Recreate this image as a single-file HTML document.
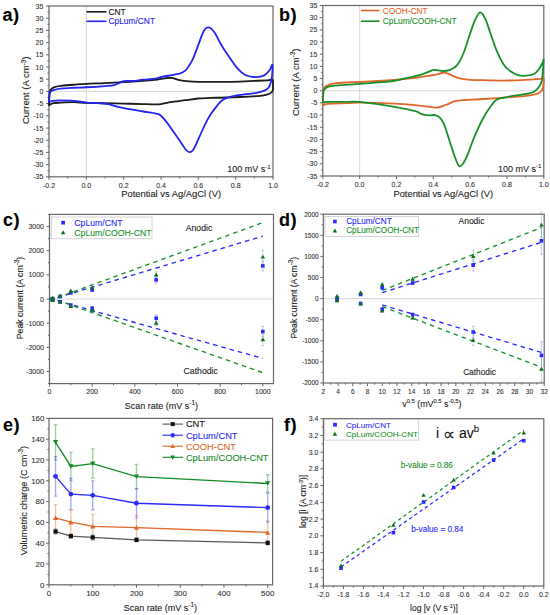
<!DOCTYPE html>
<html><head><meta charset="utf-8"><style>html,body{margin:0;padding:0;background:#fff;}svg{display:block;}</style></head>
<body><svg width="550" height="615" viewBox="0 0 550 615" font-family='"Liberation Sans", sans-serif'>
<rect width="550" height="615" fill="#fff"/>
<path d="M86.33 6V176.8M49 91.4H273" stroke="#d4d4d4" stroke-width="0.9"/>
<rect x="49" y="6" width="224" height="170.8" fill="none" stroke="#666" stroke-width="1.2"/>
<path d="M46 176.8H49M46 164.6H49M46 152.4H49M46 140.2H49M46 128H49M46 115.8H49M46 103.6H49M46 91.4H49M46 79.2H49M46 67H49M46 54.8H49M46 42.6H49M46 30.4H49M46 18.2H49M46 6H49M47.4 170.7H49M47.4 158.5H49M47.4 146.3H49M47.4 134.1H49M47.4 121.9H49M47.4 109.7H49M47.4 97.5H49M47.4 85.3H49M47.4 73.1H49M47.4 60.9H49M47.4 48.7H49M47.4 36.5H49M47.4 24.3H49M47.4 12.1H49M49 176.8V179.8M86.33 176.8V179.8M123.67 176.8V179.8M161 176.8V179.8M198.33 176.8V179.8M235.67 176.8V179.8M273 176.8V179.8M67.67 176.8V178.4M105 176.8V178.4M142.33 176.8V178.4M179.67 176.8V178.4M217 176.8V178.4M254.33 176.8V178.4" stroke="#666" stroke-width="1" fill="none"/>
<text x="43.3" y="179.32" font-size="7" text-anchor="end" fill="#333" stroke="#333" stroke-width="0.1">-35</text>
<text x="43.3" y="167.12" font-size="7" text-anchor="end" fill="#333" stroke="#333" stroke-width="0.1">-30</text>
<text x="43.3" y="154.92" font-size="7" text-anchor="end" fill="#333" stroke="#333" stroke-width="0.1">-25</text>
<text x="43.3" y="142.72" font-size="7" text-anchor="end" fill="#333" stroke="#333" stroke-width="0.1">-20</text>
<text x="43.3" y="130.52" font-size="7" text-anchor="end" fill="#333" stroke="#333" stroke-width="0.1">-15</text>
<text x="43.3" y="118.32" font-size="7" text-anchor="end" fill="#333" stroke="#333" stroke-width="0.1">-10</text>
<text x="43.3" y="106.12" font-size="7" text-anchor="end" fill="#333" stroke="#333" stroke-width="0.1">-5</text>
<text x="43.3" y="93.92" font-size="7" text-anchor="end" fill="#333" stroke="#333" stroke-width="0.1">0</text>
<text x="43.3" y="81.72" font-size="7" text-anchor="end" fill="#333" stroke="#333" stroke-width="0.1">5</text>
<text x="43.3" y="69.52" font-size="7" text-anchor="end" fill="#333" stroke="#333" stroke-width="0.1">10</text>
<text x="43.3" y="57.32" font-size="7" text-anchor="end" fill="#333" stroke="#333" stroke-width="0.1">15</text>
<text x="43.3" y="45.12" font-size="7" text-anchor="end" fill="#333" stroke="#333" stroke-width="0.1">20</text>
<text x="43.3" y="32.92" font-size="7" text-anchor="end" fill="#333" stroke="#333" stroke-width="0.1">25</text>
<text x="43.3" y="20.72" font-size="7" text-anchor="end" fill="#333" stroke="#333" stroke-width="0.1">30</text>
<text x="43.3" y="8.52" font-size="7" text-anchor="end" fill="#333" stroke="#333" stroke-width="0.1">35</text>
<text x="49" y="187.82" font-size="7" text-anchor="middle" fill="#333" stroke="#333" stroke-width="0.1">-0.2</text>
<text x="86.33" y="187.82" font-size="7" text-anchor="middle" fill="#333" stroke="#333" stroke-width="0.1">0.0</text>
<text x="123.67" y="187.82" font-size="7" text-anchor="middle" fill="#333" stroke="#333" stroke-width="0.1">0.2</text>
<text x="161" y="187.82" font-size="7" text-anchor="middle" fill="#333" stroke="#333" stroke-width="0.1">0.4</text>
<text x="198.33" y="187.82" font-size="7" text-anchor="middle" fill="#333" stroke="#333" stroke-width="0.1">0.6</text>
<text x="235.67" y="187.82" font-size="7" text-anchor="middle" fill="#333" stroke="#333" stroke-width="0.1">0.8</text>
<text x="273" y="187.82" font-size="7" text-anchor="middle" fill="#333" stroke="#333" stroke-width="0.1">1.0</text>
<path d="M49 105.67C49.03 104.52 49.09 100.9 49.19 98.72C49.28 96.54 49.37 94.04 49.56 92.62C49.75 91.2 49.96 90.79 50.31 90.18C50.65 89.57 51.02 89.43 51.61 88.96C52.2 88.49 52.39 87.88 53.85 87.35C55.32 86.82 57.06 86.22 60.39 85.79C63.72 85.35 69.5 85.06 73.83 84.74C78.15 84.41 81.14 84.11 86.33 83.84C91.53 83.56 98.78 83.39 105 83.1C111.22 82.82 117.44 82.49 123.67 82.13C129.89 81.76 136.73 81.31 142.33 80.91C147.93 80.5 152.6 80.22 157.27 79.69C161.93 79.16 166.6 77.65 170.33 77.74C174.07 77.82 176.56 79.57 179.67 80.18C182.78 80.79 185.89 81.11 189 81.4C192.11 81.68 193.67 81.8 198.33 81.88C203 81.97 210.06 81.92 217 81.88C223.94 81.84 233.74 81.8 239.96 81.64C246.18 81.48 249.76 81.13 254.33 80.91C258.91 80.68 264.35 80.46 267.4 80.3C270.45 80.14 271.69 78.9 272.63 79.93C273.56 80.97 272.97 84.81 273 86.52C273.03 88.23 273.16 89.12 272.81 90.18C272.47 91.24 271.94 92.13 270.95 92.86C269.95 93.6 268.61 94.08 266.84 94.57C265.07 95.06 264.79 95.39 260.31 95.79C255.83 96.2 247.18 96.69 239.96 97.01C232.74 97.34 223.94 97.5 217 97.74C210.06 97.99 203.59 98.07 198.33 98.48C193.08 98.88 190.12 99.57 185.45 100.18C180.79 100.79 174.41 101.49 170.33 102.14C166.26 102.79 164.11 103.72 161 104.09C157.89 104.45 154.78 104.33 151.67 104.33C148.56 104.33 147 104.21 142.33 104.09C137.67 103.97 129.89 103.76 123.67 103.6C117.44 103.44 111.22 103.23 105 103.11C98.78 102.99 91.53 103.03 86.33 102.87C81.14 102.71 78.15 102.18 73.83 102.14C69.5 102.1 63.93 102.42 60.39 102.62C56.84 102.83 54.44 102.85 52.55 103.36C50.65 103.86 49.59 105.29 49 105.67" stroke="#1c1c1c" stroke-width="1.8" fill="none" stroke-linejoin="round"/>
<path d="M49 102.62C49.06 101.57 49.22 97.89 49.37 96.28C49.53 94.67 49.68 93.77 49.93 92.96C50.18 92.15 50.43 91.84 50.87 91.4C51.3 90.96 50.96 90.81 52.55 90.35C54.13 89.89 56.84 89.08 60.39 88.64C63.93 88.21 69.5 87.97 73.83 87.74C78.15 87.51 81.14 87.54 86.33 87.25C91.53 86.97 100.33 86.4 105 86.03C109.67 85.67 112 85.54 114.33 85.06C116.67 84.57 117.44 83.75 119 83.1C120.56 82.45 121.33 81.52 123.67 81.15C126 80.79 129.73 81.15 133 80.91C136.27 80.66 139.53 80.05 143.27 79.69C147 79.32 152.13 79.24 155.4 78.71C158.67 78.18 160.38 77.09 162.87 76.52C165.36 75.95 167.53 75.78 170.33 75.3C173.13 74.81 177.18 74.36 179.67 73.59C182.16 72.82 183.71 71.96 185.27 70.66C186.82 69.36 187.82 67.53 189 65.78C190.18 64.03 191.3 62.32 192.36 60.17C193.42 58.01 194.26 55.65 195.35 52.85C196.44 50.04 197.71 46.5 198.89 43.33C200.08 40.16 201.35 36.26 202.44 33.82C203.53 31.38 204.43 29.77 205.43 28.69C206.42 27.61 207.45 27.35 208.41 27.35C209.38 27.35 210.12 27.74 211.21 28.69C212.3 29.65 213.33 30.48 214.95 33.08C216.56 35.69 219.02 41.01 220.92 44.31C222.82 47.6 224.53 50.12 226.33 52.85C228.14 55.57 229.72 57.89 231.75 60.66C233.77 63.42 236.29 67.08 238.47 69.44C240.64 71.8 242.29 73.55 244.81 74.81C247.33 76.07 250.66 76.8 253.59 77C256.51 77.21 260.21 76.6 262.36 76.03C264.51 75.46 265.19 74.69 266.47 73.59C267.74 72.49 269.02 70.9 270.01 69.44C271.01 67.98 272.1 63.79 272.44 64.8C272.78 65.82 272.32 72.69 272.07 75.54C271.82 78.39 271.54 79.85 270.95 81.88C270.36 83.92 269.61 86.3 268.52 87.74C267.43 89.18 266.44 89.69 264.41 90.55C262.39 91.4 259.47 92.25 256.39 92.86C253.31 93.47 249.39 93.76 245.93 94.21C242.48 94.65 238.62 95 235.67 95.55C232.71 96.1 230.44 96.73 228.2 97.5C225.96 98.27 224.03 98.88 222.23 100.18C220.42 101.49 219.27 102.99 217.37 105.31C215.48 107.63 212.99 110.72 210.84 114.09C208.69 117.47 206.61 121.29 204.49 125.56C202.38 129.83 200.04 135.65 198.15 139.71C196.25 143.78 194.57 147.89 193.11 149.96C191.64 152.03 190.65 152.28 189.37 152.16C188.1 152.03 187.16 151.3 185.45 149.23C183.74 147.15 181.22 142.8 179.11 139.71C176.99 136.62 174.88 133.65 172.76 130.68C170.64 127.72 168.53 124.5 166.41 121.9C164.3 119.3 161.96 116.49 160.07 115.07C158.17 113.64 157.11 113.85 155.03 113.36C152.94 112.87 151.36 112.75 147.56 112.14C143.76 111.53 137.32 110.64 132.25 109.7C127.18 108.76 121.12 107.46 117.13 106.53C113.15 105.59 111.63 104.66 108.36 104.09C105.09 103.52 101.2 103.36 97.53 103.11C93.86 102.87 90.28 103.01 86.33 102.62C82.38 102.24 78.15 101.16 73.83 100.79C69.5 100.43 63.93 100.43 60.39 100.43C56.84 100.43 54.35 100.51 52.55 100.79C50.74 101.08 50.15 101.83 49.56 102.14C48.97 102.44 49.09 102.54 49 102.62" stroke="#2424f0" stroke-width="1.8" fill="none" stroke-linejoin="round"/>
<path d="M86.5 11.8H106.5" stroke="#1c1c1c" stroke-width="1.6"/><path d="M86.5 21.3H106.5" stroke="#2424f0" stroke-width="1.6"/>
<text x="108.5" y="14.8" font-size="8.4" fill="#111" stroke="#111" stroke-width="0.1">CNT</text>
<text x="108.5" y="24.3" font-size="8.4" fill="#2424f0" stroke="#2424f0" stroke-width="0.1">CpLum/CNT</text>
<text x="270.5" y="172" font-size="9" text-anchor="end" fill="#222" stroke="#222" stroke-width="0.1">100 mV s<tspan dy="-3.5" font-size="6">-1</tspan></text>
<text x="2.6" y="20.8" font-size="18" font-weight="bold" fill="#000" stroke="#000" stroke-width="0.1">a<tspan dx="0.5" font-size="18.5">)</tspan></text>
<text transform="translate(29.2,90.3) rotate(-90)" font-size="9.5" text-anchor="middle" fill="#222" stroke="#222" stroke-width="0.1">Current (A cm<tspan dy="-3.6" font-size="6.4">-3</tspan><tspan dy="3.6">)</tspan></text>
<text x="171.2" y="197.1" font-size="9.35" text-anchor="middle" fill="#222" stroke="#222" stroke-width="0.1">Potential vs Ag/AgCl (V)</text>
<path d="M359.63 5.5V176M322.8 90.75H543.8" stroke="#d4d4d4" stroke-width="0.9"/>
<rect x="322.8" y="5.5" width="221" height="170.5" fill="none" stroke="#666" stroke-width="1.2"/>
<path d="M319.8 176H322.8M319.8 163.82H322.8M319.8 151.64H322.8M319.8 139.46H322.8M319.8 127.29H322.8M319.8 115.11H322.8M319.8 102.93H322.8M319.8 90.75H322.8M319.8 78.57H322.8M319.8 66.39H322.8M319.8 54.21H322.8M319.8 42.04H322.8M319.8 29.86H322.8M319.8 17.68H322.8M319.8 5.5H322.8M321.2 169.91H322.8M321.2 157.73H322.8M321.2 145.55H322.8M321.2 133.38H322.8M321.2 121.2H322.8M321.2 109.02H322.8M321.2 96.84H322.8M321.2 84.66H322.8M321.2 72.48H322.8M321.2 60.3H322.8M321.2 48.12H322.8M321.2 35.95H322.8M321.2 23.77H322.8M321.2 11.59H322.8M322.8 176V179M359.63 176V179M396.47 176V179M433.3 176V179M470.13 176V179M506.97 176V179M543.8 176V179M341.22 176V177.6M378.05 176V177.6M414.88 176V177.6M451.72 176V177.6M488.55 176V177.6M525.38 176V177.6" stroke="#666" stroke-width="1" fill="none"/>
<text x="317.3" y="178.52" font-size="7" text-anchor="end" fill="#333" stroke="#333" stroke-width="0.1">-35</text>
<text x="317.3" y="166.34" font-size="7" text-anchor="end" fill="#333" stroke="#333" stroke-width="0.1">-30</text>
<text x="317.3" y="154.16" font-size="7" text-anchor="end" fill="#333" stroke="#333" stroke-width="0.1">-25</text>
<text x="317.3" y="141.98" font-size="7" text-anchor="end" fill="#333" stroke="#333" stroke-width="0.1">-20</text>
<text x="317.3" y="129.81" font-size="7" text-anchor="end" fill="#333" stroke="#333" stroke-width="0.1">-15</text>
<text x="317.3" y="117.63" font-size="7" text-anchor="end" fill="#333" stroke="#333" stroke-width="0.1">-10</text>
<text x="317.3" y="105.45" font-size="7" text-anchor="end" fill="#333" stroke="#333" stroke-width="0.1">-5</text>
<text x="317.3" y="93.27" font-size="7" text-anchor="end" fill="#333" stroke="#333" stroke-width="0.1">0</text>
<text x="317.3" y="81.09" font-size="7" text-anchor="end" fill="#333" stroke="#333" stroke-width="0.1">5</text>
<text x="317.3" y="68.91" font-size="7" text-anchor="end" fill="#333" stroke="#333" stroke-width="0.1">10</text>
<text x="317.3" y="56.73" font-size="7" text-anchor="end" fill="#333" stroke="#333" stroke-width="0.1">15</text>
<text x="317.3" y="44.56" font-size="7" text-anchor="end" fill="#333" stroke="#333" stroke-width="0.1">20</text>
<text x="317.3" y="32.38" font-size="7" text-anchor="end" fill="#333" stroke="#333" stroke-width="0.1">25</text>
<text x="317.3" y="20.2" font-size="7" text-anchor="end" fill="#333" stroke="#333" stroke-width="0.1">30</text>
<text x="317.3" y="8.02" font-size="7" text-anchor="end" fill="#333" stroke="#333" stroke-width="0.1">35</text>
<text x="322.8" y="187.12" font-size="7" text-anchor="middle" fill="#333" stroke="#333" stroke-width="0.1">-0.2</text>
<text x="359.63" y="187.12" font-size="7" text-anchor="middle" fill="#333" stroke="#333" stroke-width="0.1">0.0</text>
<text x="396.47" y="187.12" font-size="7" text-anchor="middle" fill="#333" stroke="#333" stroke-width="0.1">0.2</text>
<text x="433.3" y="187.12" font-size="7" text-anchor="middle" fill="#333" stroke="#333" stroke-width="0.1">0.4</text>
<text x="470.13" y="187.12" font-size="7" text-anchor="middle" fill="#333" stroke="#333" stroke-width="0.1">0.6</text>
<text x="506.97" y="187.12" font-size="7" text-anchor="middle" fill="#333" stroke="#333" stroke-width="0.1">0.8</text>
<text x="543.8" y="187.12" font-size="7" text-anchor="middle" fill="#333" stroke="#333" stroke-width="0.1">1.0</text>
<path d="M322.8 106.09C322.83 104.76 322.89 100.41 322.98 98.06C323.08 95.7 323.2 93.61 323.35 91.97C323.51 90.32 323.57 89.09 323.91 88.19C324.24 87.3 324.73 87.09 325.38 86.61C326.02 86.13 326.3 85.85 327.77 85.29C329.25 84.74 330.87 83.78 334.22 83.3C337.56 82.81 343.61 82.61 347.85 82.4C352.08 82.18 354.6 82.21 359.63 81.98C364.67 81.75 372.22 81.37 378.05 81.01C383.88 80.64 388.49 80.32 394.62 79.79C400.76 79.26 409.05 78.53 414.88 77.84C420.72 77.15 426.12 76.18 429.62 75.65C433.12 75.12 433.61 75.16 435.88 74.67C438.15 74.19 441.22 72.89 443.25 72.73C445.27 72.56 446.16 73.05 448.03 73.7C449.91 74.35 452.33 75.81 454.48 76.62C456.63 77.43 458.32 78.04 460.92 78.57C463.53 79.1 465.53 79.51 470.13 79.79C474.74 80.07 482.41 80.15 488.55 80.28C494.69 80.4 500.83 80.58 506.97 80.52C513.11 80.46 519.86 80.2 525.38 79.91C530.91 79.63 537.08 79.04 540.12 78.82C543.16 78.59 543.06 77.68 543.62 78.57C544.17 79.46 543.74 82.14 543.43 84.17C543.12 86.2 542.88 89.13 541.77 90.75C540.67 92.37 539.38 93.06 536.8 93.92C534.22 94.77 530.75 95.32 526.3 95.87C521.85 96.41 514.86 96.84 510.1 97.2C505.34 97.57 502.88 97.71 497.76 98.06C492.63 98.4 484.9 98.95 479.34 99.27C473.79 99.6 468.41 99.68 464.42 100.01C460.43 100.33 458.59 100.37 455.4 101.22C452.21 102.08 448.25 104.07 445.27 105.12C442.29 106.18 440.08 107.27 437.54 107.56C434.99 107.84 433.76 107.23 429.99 106.83C426.21 106.42 420.78 105.65 414.88 105.12C408.99 104.59 403.83 104.07 394.62 103.66C385.42 103.25 367.43 102.77 359.63 102.69C351.84 102.6 353.16 102.99 347.85 103.17C342.54 103.36 331.85 103.44 327.77 103.81C323.69 104.17 324.18 104.98 323.35 105.36C322.52 105.75 322.89 105.97 322.8 106.09" stroke="#e0662a" stroke-width="1.8" fill="none" stroke-linejoin="round"/>
<path d="M322.8 102.93C322.83 101.71 322.89 97.53 322.98 95.62C323.08 93.71 323.2 92.39 323.35 91.48C323.51 90.58 323.57 90.72 323.91 90.19C324.24 89.66 324.73 88.86 325.38 88.31C326.02 87.77 326.3 87.35 327.77 86.9C329.25 86.45 330.87 85.99 334.22 85.61C337.56 85.23 343.61 84.89 347.85 84.61C352.08 84.33 354.6 84.29 359.63 83.93C364.67 83.57 372.22 83 378.05 82.47C383.88 81.94 388.27 81.86 394.62 80.76C400.98 79.67 411.11 77.15 416.17 75.89C421.24 74.63 422.46 74.11 425.01 73.21C427.56 72.32 429.77 71.1 431.46 70.53C433.15 69.97 433.18 69.72 435.14 69.8C437.11 69.88 440.76 71.02 443.25 71.02C445.73 71.02 447.79 70.74 450.06 69.8C452.33 68.87 454.6 68.26 456.87 65.42C459.14 62.58 461.6 57.71 463.69 52.75C465.77 47.8 467.49 41.18 469.4 35.7C471.3 30.22 473.29 23.77 475.11 19.87C476.92 15.97 478.57 12.52 480.26 12.32C481.95 12.12 483.45 14.92 485.24 18.65C487.02 22.39 489.04 29.41 490.94 34.73C492.85 40.05 494.57 45.65 496.65 50.56C498.74 55.47 501.23 60.78 503.47 64.2C505.71 67.62 507.67 69.27 510.1 71.09C512.52 72.92 515.32 74.4 518.02 75.16C520.72 75.92 523.57 75.89 526.3 75.65C529.04 75.4 532.26 74.86 534.41 73.7C536.56 72.54 537.85 70.49 539.2 68.71C540.55 66.92 541.77 64.51 542.51 62.98C543.25 61.46 543.55 58.36 543.62 59.57C543.68 60.79 543.19 66.72 542.88 70.29C542.57 73.86 542.39 78.29 541.77 81.01C541.16 83.73 540.42 84.86 539.2 86.61C537.97 88.35 536.56 90.26 534.41 91.48C532.26 92.7 530.36 93.1 526.3 93.92C522.25 94.73 513.93 95.7 510.1 96.35C506.26 97 505.62 97.2 503.28 97.81C500.95 98.42 498.34 98.38 496.1 100.01C493.86 101.63 491.96 104.59 489.84 107.56C487.72 110.52 485.33 114.38 483.39 117.79C481.46 121.2 479.92 124.4 478.24 128.02C476.55 131.63 474.95 135.24 473.26 139.46C471.58 143.69 469.8 149.33 468.11 153.35C466.42 157.37 464.61 161.43 463.13 163.58C461.66 165.73 460.56 167.11 459.27 166.26C457.98 165.4 456.69 161.67 455.4 158.46C454.11 155.26 452.79 150.83 451.53 147.02C450.27 143.2 449.11 139.38 447.85 135.57C446.59 131.75 445.27 127.08 443.98 124.12C442.69 121.16 441.59 119.29 440.11 117.79C438.64 116.28 436.83 115.51 435.14 115.11C433.45 114.7 431.67 115.39 429.99 115.35C428.3 115.31 426.61 115.15 425.01 114.86C423.42 114.58 421.88 114.21 420.41 113.65C418.93 113.08 420.47 112.59 416.17 111.45C411.88 110.32 404.05 108.41 394.62 106.83C385.2 105.24 367.43 102.77 359.63 101.95C351.84 101.14 353.16 101.95 347.85 101.95C342.54 101.95 331.85 101.87 327.77 101.95C323.69 102.04 324.18 102.28 323.35 102.44C322.52 102.6 322.89 102.85 322.8 102.93" stroke="#17902a" stroke-width="1.8" fill="none" stroke-linejoin="round"/>
<path d="M361 10.5H379.5" stroke="#e0662a" stroke-width="1.6"/><path d="M361 21.2H379.5" stroke="#17902a" stroke-width="1.6"/>
<text x="382.8" y="13.5" font-size="8.3" fill="#e0662a" stroke="#e0662a" stroke-width="0.1">COOH-CNT</text>
<text x="382.8" y="24.2" font-size="8.3" fill="#17902a" stroke="#17902a" stroke-width="0.1">CpLum/COOH-CNT</text>
<text x="541.3" y="171.5" font-size="9" text-anchor="end" fill="#222" stroke="#222" stroke-width="0.1">100 mV s<tspan dy="-3.5" font-size="6">-1</tspan></text>
<text x="279" y="21" font-size="18" font-weight="bold" fill="#000" stroke="#000" stroke-width="0.1">b<tspan dx="0.5" font-size="18.5">)</tspan></text>
<text transform="translate(298.9,82.3) rotate(-90)" font-size="9.5" text-anchor="middle" fill="#222" stroke="#222" stroke-width="0.1">Current (A cm<tspan dy="-3.6" font-size="6.4">-3</tspan><tspan dy="3.6">)</tspan></text>
<text x="443.3" y="196.6" font-size="9.35" text-anchor="middle" fill="#222" stroke="#222" stroke-width="0.1">Potential vs Ag/AgCl (V)</text>
<path d="M49.5 299H273.5" stroke="#d4d4d4" stroke-width="0.9"/>
<rect x="49.5" y="214.4" width="224" height="169.2" fill="none" stroke="#666" stroke-width="1.2"/>
<path d="M46.5 371.51H49.5M46.5 347.34H49.5M46.5 323.17H49.5M46.5 299H49.5M46.5 274.83H49.5M46.5 250.66H49.5M46.5 226.49H49.5M47.9 383.6H49.5M47.9 359.43H49.5M47.9 335.26H49.5M47.9 311.09H49.5M47.9 286.91H49.5M47.9 262.74H49.5M47.9 238.57H49.5M47.9 214.4H49.5M49.5 383.6V386.6M92.17 383.6V386.6M134.83 383.6V386.6M177.5 383.6V386.6M220.17 383.6V386.6M262.83 383.6V386.6M70.83 383.6V385.2M113.5 383.6V385.2M156.17 383.6V385.2M198.83 383.6V385.2M241.5 383.6V385.2" stroke="#666" stroke-width="1" fill="none"/>
<text x="44" y="374.03" font-size="7" text-anchor="end" fill="#333" stroke="#333" stroke-width="0.1">-3000</text>
<text x="44" y="349.86" font-size="7" text-anchor="end" fill="#333" stroke="#333" stroke-width="0.1">-2000</text>
<text x="44" y="325.69" font-size="7" text-anchor="end" fill="#333" stroke="#333" stroke-width="0.1">-1000</text>
<text x="44" y="301.52" font-size="7" text-anchor="end" fill="#333" stroke="#333" stroke-width="0.1">0</text>
<text x="44" y="277.35" font-size="7" text-anchor="end" fill="#333" stroke="#333" stroke-width="0.1">1000</text>
<text x="44" y="253.18" font-size="7" text-anchor="end" fill="#333" stroke="#333" stroke-width="0.1">2000</text>
<text x="44" y="229.01" font-size="7" text-anchor="end" fill="#333" stroke="#333" stroke-width="0.1">3000</text>
<text x="49.5" y="394.42" font-size="7" text-anchor="middle" fill="#333" stroke="#333" stroke-width="0.1">0</text>
<text x="92.17" y="394.42" font-size="7" text-anchor="middle" fill="#333" stroke="#333" stroke-width="0.1">200</text>
<text x="134.83" y="394.42" font-size="7" text-anchor="middle" fill="#333" stroke="#333" stroke-width="0.1">400</text>
<text x="177.5" y="394.42" font-size="7" text-anchor="middle" fill="#333" stroke="#333" stroke-width="0.1">600</text>
<text x="220.17" y="394.42" font-size="7" text-anchor="middle" fill="#333" stroke="#333" stroke-width="0.1">800</text>
<text x="262.83" y="394.42" font-size="7" text-anchor="middle" fill="#333" stroke="#333" stroke-width="0.1">1000</text>
<path d="M49.5 299.97L262.83 236.15" stroke="#2a2aff" stroke-width="1.35" stroke-dasharray="4.5 4" fill="none"/>
<path d="M49.5 300.45L262.83 222.62" stroke="#17902a" stroke-width="1.35" stroke-dasharray="4.5 4" fill="none"/>
<path d="M49.5 298.52L262.83 358.46" stroke="#2a2aff" stroke-width="1.35" stroke-dasharray="4.5 4" fill="none"/>
<path d="M49.5 297.55L262.83 372.72" stroke="#17902a" stroke-width="1.35" stroke-dasharray="4.5 4" fill="none"/>
<path d="M52.7 298.15V299.6M51.3 298.15H54.1M51.3 299.6H54.1" stroke="#2a2aff" stroke-width="0.8" opacity="0.35" fill="none"/>
<path d="M52.7 299.24V300.69M51.3 299.24H54.1M51.3 300.69H54.1" stroke="#2a2aff" stroke-width="0.8" opacity="0.35" fill="none"/>
<path d="M52.7 296.82V298.27M51.3 296.82H54.1M51.3 298.27H54.1" stroke="#17902a" stroke-width="0.8" opacity="0.35" fill="none"/>
<path d="M52.7 299.29V300.74M51.3 299.29H54.1M51.3 300.74H54.1" stroke="#17902a" stroke-width="0.8" opacity="0.35" fill="none"/>
<path d="M60.17 295.91V297.36M58.77 295.91H61.57M58.77 297.36H61.57" stroke="#2a2aff" stroke-width="0.8" opacity="0.35" fill="none"/>
<path d="M60.17 301.05V302.5M58.77 301.05H61.57M58.77 302.5H61.57" stroke="#2a2aff" stroke-width="0.8" opacity="0.35" fill="none"/>
<path d="M60.17 294.75V296.2M58.77 294.75H61.57M58.77 296.2H61.57" stroke="#17902a" stroke-width="0.8" opacity="0.35" fill="none"/>
<path d="M60.17 301.13V302.58M58.77 301.13H61.57M58.77 302.58H61.57" stroke="#17902a" stroke-width="0.8" opacity="0.35" fill="none"/>
<path d="M70.83 291.87V293.8M69.43 291.87H72.23M69.43 293.8H72.23" stroke="#2a2aff" stroke-width="0.8" opacity="0.35" fill="none"/>
<path d="M70.83 304.12V306.06M69.43 304.12H72.23M69.43 306.06H72.23" stroke="#2a2aff" stroke-width="0.8" opacity="0.35" fill="none"/>
<path d="M70.83 289.86V291.8M69.43 289.86H72.23M69.43 291.8H72.23" stroke="#17902a" stroke-width="0.8" opacity="0.35" fill="none"/>
<path d="M70.83 304.92V306.86M69.43 304.92H72.23M69.43 306.86H72.23" stroke="#17902a" stroke-width="0.8" opacity="0.35" fill="none"/>
<path d="M92.17 288.61V291.51M90.77 288.61H93.57M90.77 291.51H93.57" stroke="#2a2aff" stroke-width="0.8" opacity="0.35" fill="none"/>
<path d="M92.17 306.73V309.64M90.77 306.73H93.57M90.77 309.64H93.57" stroke="#2a2aff" stroke-width="0.8" opacity="0.35" fill="none"/>
<path d="M92.17 286.19V289.09M90.77 286.19H93.57M90.77 289.09H93.57" stroke="#17902a" stroke-width="0.8" opacity="0.35" fill="none"/>
<path d="M92.17 308.38V311.28M90.77 308.38H93.57M90.77 311.28H93.57" stroke="#17902a" stroke-width="0.8" opacity="0.35" fill="none"/>
<path d="M156.17 276.47V283.24M154.77 276.47H157.57M154.77 283.24H157.57" stroke="#2a2aff" stroke-width="0.8" opacity="0.35" fill="none"/>
<path d="M156.17 314.76V321.53M154.77 314.76H157.57M154.77 321.53H157.57" stroke="#2a2aff" stroke-width="0.8" opacity="0.35" fill="none"/>
<path d="M156.17 271.64V277.44M154.77 271.64H157.57M154.77 277.44H157.57" stroke="#17902a" stroke-width="0.8" opacity="0.35" fill="none"/>
<path d="M156.17 319.74V325.54M154.77 319.74H157.57M154.77 325.54H157.57" stroke="#17902a" stroke-width="0.8" opacity="0.35" fill="none"/>
<path d="M262.83 260.81V270.96M261.43 260.81H264.23M261.43 270.96H264.23" stroke="#2a2aff" stroke-width="0.8" opacity="0.35" fill="none"/>
<path d="M262.83 326.43V336.59M261.43 326.43H264.23M261.43 336.59H264.23" stroke="#2a2aff" stroke-width="0.8" opacity="0.35" fill="none"/>
<path d="M262.83 250.34V262.91M261.43 250.34H264.23M261.43 262.91H264.23" stroke="#17902a" stroke-width="0.8" opacity="0.35" fill="none"/>
<path d="M262.83 332.96V345.53M261.43 332.96H264.23M261.43 345.53H264.23" stroke="#17902a" stroke-width="0.8" opacity="0.35" fill="none"/>
<rect x="50.9" y="297.08" width="3.6" height="3.6" fill="#2a2aff"/>
<rect x="50.9" y="298.17" width="3.6" height="3.6" fill="#2a2aff"/>
<rect x="58.37" y="294.83" width="3.6" height="3.6" fill="#2a2aff"/>
<rect x="58.37" y="299.98" width="3.6" height="3.6" fill="#2a2aff"/>
<rect x="69.03" y="291.04" width="3.6" height="3.6" fill="#2a2aff"/>
<rect x="69.03" y="303.29" width="3.6" height="3.6" fill="#2a2aff"/>
<rect x="90.37" y="288.26" width="3.6" height="3.6" fill="#2a2aff"/>
<rect x="90.37" y="306.39" width="3.6" height="3.6" fill="#2a2aff"/>
<rect x="154.37" y="278.06" width="3.6" height="3.6" fill="#2a2aff"/>
<rect x="154.37" y="316.34" width="3.6" height="3.6" fill="#2a2aff"/>
<rect x="261.03" y="264.09" width="3.6" height="3.6" fill="#2a2aff"/>
<rect x="261.03" y="329.71" width="3.6" height="3.6" fill="#2a2aff"/>
<path d="M50.4 299.54L55 299.54L52.7 295.56Z" fill="#0f6e1e"/>
<path d="M50.4 302.01L55 302.01L52.7 298.02Z" fill="#0f6e1e"/>
<path d="M57.87 297.46L62.47 297.46L60.17 293.48Z" fill="#0f6e1e"/>
<path d="M57.87 303.84L62.47 303.84L60.17 299.86Z" fill="#0f6e1e"/>
<path d="M68.53 292.82L73.13 292.82L70.83 288.84Z" fill="#0f6e1e"/>
<path d="M68.53 307.88L73.13 307.88L70.83 303.9Z" fill="#0f6e1e"/>
<path d="M89.87 289.63L94.47 289.63L92.17 285.65Z" fill="#0f6e1e"/>
<path d="M89.87 311.82L94.47 311.82L92.17 307.84Z" fill="#0f6e1e"/>
<path d="M153.87 276.53L158.47 276.53L156.17 272.55Z" fill="#0f6e1e"/>
<path d="M153.87 324.63L158.47 324.63L156.17 320.65Z" fill="#0f6e1e"/>
<path d="M260.53 258.62L265.13 258.62L262.83 254.64Z" fill="#0f6e1e"/>
<path d="M260.53 341.24L265.13 341.24L262.83 337.25Z" fill="#0f6e1e"/>
<rect x="51.6" y="217" width="100.4" height="21.8" fill="#fff" fill-opacity="0.9" stroke="#c8c8c8" stroke-width="0.8"/>
<rect x="61.25" y="220.85" width="3.7" height="3.7" fill="#2a2aff"/>
<path d="M60.8 234.19L65.4 234.19L63.1 230.21Z" fill="#0f6e1e"/>
<text x="74.3" y="225.8" font-size="8.7" fill="#2a2aff" stroke="#2a2aff" stroke-width="0.1">CpLum/CNT</text>
<text x="74.3" y="235.5" font-size="8.7" fill="#17902a" stroke="#17902a" stroke-width="0.1">CpLum/COOH-CNT</text>
<text x="199" y="230.5" font-size="8.7" text-anchor="middle" fill="#222" stroke="#222" stroke-width="0.1">Anodic</text>
<text x="200.7" y="373.8" font-size="8.7" text-anchor="middle" fill="#222" stroke="#222" stroke-width="0.1">Cathodic</text>
<text x="3" y="226" font-size="18" font-weight="bold" fill="#000" stroke="#000" stroke-width="0.1">c<tspan dx="0.5" font-size="18.5">)</tspan></text>
<text transform="translate(22.8,298) rotate(-90)" font-size="8.7" text-anchor="middle" fill="#222" stroke="#222" stroke-width="0.1">Peak current (A cm<tspan dy="-3.6" font-size="6.4">-3</tspan><tspan dy="3.6">)</tspan></text>
<text x="161.4" y="408.6" font-size="9" text-anchor="middle" fill="#222" stroke="#222" stroke-width="0.1">Scan rate (mV s<tspan dy="-3.6" font-size="6.4">-1</tspan><tspan dy="3.6">)</tspan></text>
<path d="M323.3 298.6H544.2" stroke="#d4d4d4" stroke-width="0.9"/>
<rect x="323.3" y="214.2" width="220.9" height="168.8" fill="none" stroke="#666" stroke-width="1.2"/>
<path d="M320.3 383H323.3M320.3 361.9H323.3M320.3 340.8H323.3M320.3 319.7H323.3M320.3 298.6H323.3M320.3 277.5H323.3M320.3 256.4H323.3M320.3 235.3H323.3M320.3 214.2H323.3M321.7 372.45H323.3M321.7 351.35H323.3M321.7 330.25H323.3M321.7 309.15H323.3M321.7 288.05H323.3M321.7 266.95H323.3M321.7 245.85H323.3M321.7 224.75H323.3M323.3 383V386M338.03 383V386M352.75 383V386M367.48 383V386M382.21 383V386M396.93 383V386M411.66 383V386M426.39 383V386M441.11 383V386M455.84 383V386M470.57 383V386M485.29 383V386M500.02 383V386M514.75 383V386M529.47 383V386M544.2 383V386M330.66 383V384.6M345.39 383V384.6M360.12 383V384.6M374.84 383V384.6M389.57 383V384.6M404.3 383V384.6M419.02 383V384.6M433.75 383V384.6M448.48 383V384.6M463.2 383V384.6M477.93 383V384.6M492.66 383V384.6M507.38 383V384.6M522.11 383V384.6M536.84 383V384.6" stroke="#666" stroke-width="1" fill="none"/>
<text x="318.7" y="385.34" font-size="6.5" text-anchor="end" fill="#333" stroke="#333" stroke-width="0.1">-2000</text>
<text x="318.7" y="364.24" font-size="6.5" text-anchor="end" fill="#333" stroke="#333" stroke-width="0.1">-1500</text>
<text x="318.7" y="343.14" font-size="6.5" text-anchor="end" fill="#333" stroke="#333" stroke-width="0.1">-1000</text>
<text x="318.7" y="322.04" font-size="6.5" text-anchor="end" fill="#333" stroke="#333" stroke-width="0.1">-500</text>
<text x="318.7" y="300.94" font-size="6.5" text-anchor="end" fill="#333" stroke="#333" stroke-width="0.1">0</text>
<text x="318.7" y="279.84" font-size="6.5" text-anchor="end" fill="#333" stroke="#333" stroke-width="0.1">500</text>
<text x="318.7" y="258.74" font-size="6.5" text-anchor="end" fill="#333" stroke="#333" stroke-width="0.1">1000</text>
<text x="318.7" y="237.64" font-size="6.5" text-anchor="end" fill="#333" stroke="#333" stroke-width="0.1">1500</text>
<text x="318.7" y="216.54" font-size="6.5" text-anchor="end" fill="#333" stroke="#333" stroke-width="0.1">2000</text>
<text x="323.3" y="393.74" font-size="6.5" text-anchor="middle" fill="#333" stroke="#333" stroke-width="0.1">2</text>
<text x="338.03" y="393.74" font-size="6.5" text-anchor="middle" fill="#333" stroke="#333" stroke-width="0.1">4</text>
<text x="352.75" y="393.74" font-size="6.5" text-anchor="middle" fill="#333" stroke="#333" stroke-width="0.1">6</text>
<text x="367.48" y="393.74" font-size="6.5" text-anchor="middle" fill="#333" stroke="#333" stroke-width="0.1">8</text>
<text x="382.21" y="393.74" font-size="6.5" text-anchor="middle" fill="#333" stroke="#333" stroke-width="0.1">10</text>
<text x="396.93" y="393.74" font-size="6.5" text-anchor="middle" fill="#333" stroke="#333" stroke-width="0.1">12</text>
<text x="411.66" y="393.74" font-size="6.5" text-anchor="middle" fill="#333" stroke="#333" stroke-width="0.1">14</text>
<text x="426.39" y="393.74" font-size="6.5" text-anchor="middle" fill="#333" stroke="#333" stroke-width="0.1">16</text>
<text x="441.11" y="393.74" font-size="6.5" text-anchor="middle" fill="#333" stroke="#333" stroke-width="0.1">18</text>
<text x="455.84" y="393.74" font-size="6.5" text-anchor="middle" fill="#333" stroke="#333" stroke-width="0.1">20</text>
<text x="470.57" y="393.74" font-size="6.5" text-anchor="middle" fill="#333" stroke="#333" stroke-width="0.1">22</text>
<text x="485.29" y="393.74" font-size="6.5" text-anchor="middle" fill="#333" stroke="#333" stroke-width="0.1">24</text>
<text x="500.02" y="393.74" font-size="6.5" text-anchor="middle" fill="#333" stroke="#333" stroke-width="0.1">26</text>
<text x="514.75" y="393.74" font-size="6.5" text-anchor="middle" fill="#333" stroke="#333" stroke-width="0.1">28</text>
<text x="529.47" y="393.74" font-size="6.5" text-anchor="middle" fill="#333" stroke="#333" stroke-width="0.1">30</text>
<text x="544.2" y="393.74" font-size="6.5" text-anchor="middle" fill="#333" stroke="#333" stroke-width="0.1">32</text>
<path d="M382.21 292.65L541.4 242.35" stroke="#2a2aff" stroke-width="1.35" stroke-dasharray="4.5 4" fill="none"/>
<path d="M382.21 290.46L541.4 227.54" stroke="#17902a" stroke-width="1.35" stroke-dasharray="4.5 4" fill="none"/>
<path d="M382.21 304.93L541.4 352.45" stroke="#2a2aff" stroke-width="1.35" stroke-dasharray="4.5 4" fill="none"/>
<path d="M382.21 306.62L541.4 367.18" stroke="#17902a" stroke-width="1.35" stroke-dasharray="4.5 4" fill="none"/>
<path d="M337.09 297.55V299.23M335.69 297.55H338.49M335.69 299.23H338.49" stroke="#2a2aff" stroke-width="0.8" opacity="0.35" fill="none"/>
<path d="M337.09 299.44V301.13M335.69 299.44H338.49M335.69 301.13H338.49" stroke="#2a2aff" stroke-width="0.8" opacity="0.35" fill="none"/>
<path d="M337.09 295.22V296.91M335.69 295.22H338.49M335.69 296.91H338.49" stroke="#17902a" stroke-width="0.8" opacity="0.35" fill="none"/>
<path d="M337.09 299.53V301.22M335.69 299.53H338.49M335.69 301.22H338.49" stroke="#17902a" stroke-width="0.8" opacity="0.35" fill="none"/>
<path d="M360.64 293.62V295.31M359.24 293.62H362.04M359.24 295.31H362.04" stroke="#2a2aff" stroke-width="0.8" opacity="0.35" fill="none"/>
<path d="M360.64 302.61V304.3M359.24 302.61H362.04M359.24 304.3H362.04" stroke="#2a2aff" stroke-width="0.8" opacity="0.35" fill="none"/>
<path d="M360.64 291.59V293.28M359.24 291.59H362.04M359.24 293.28H362.04" stroke="#17902a" stroke-width="0.8" opacity="0.35" fill="none"/>
<path d="M360.64 302.74V304.42M359.24 302.74H362.04M359.24 304.42H362.04" stroke="#17902a" stroke-width="0.8" opacity="0.35" fill="none"/>
<path d="M382.21 286.57V289.11M380.81 286.57H383.61M380.81 289.11H383.61" stroke="#2a2aff" stroke-width="0.8" opacity="0.35" fill="none"/>
<path d="M382.21 307.97V310.5M380.81 307.97H383.61M380.81 310.5H383.61" stroke="#2a2aff" stroke-width="0.8" opacity="0.35" fill="none"/>
<path d="M382.21 283.07V285.6M380.81 283.07H383.61M380.81 285.6H383.61" stroke="#17902a" stroke-width="0.8" opacity="0.35" fill="none"/>
<path d="M382.21 309.36V311.89M380.81 309.36H383.61M380.81 311.89H383.61" stroke="#17902a" stroke-width="0.8" opacity="0.35" fill="none"/>
<path d="M412.71 281.3V284.67M411.31 281.3H414.11M411.31 284.67H414.11" stroke="#2a2aff" stroke-width="0.8" opacity="0.35" fill="none"/>
<path d="M412.71 312.95V316.32M411.31 312.95H414.11M411.31 316.32H414.11" stroke="#2a2aff" stroke-width="0.8" opacity="0.35" fill="none"/>
<path d="M412.71 277.08V280.45M411.31 277.08H414.11M411.31 280.45H414.11" stroke="#17902a" stroke-width="0.8" opacity="0.35" fill="none"/>
<path d="M412.71 315.82V319.19M411.31 315.82H414.11M411.31 319.19H414.11" stroke="#17902a" stroke-width="0.8" opacity="0.35" fill="none"/>
<path d="M473.22 259.27V271.09M471.82 259.27H474.62M471.82 271.09H474.62" stroke="#2a2aff" stroke-width="0.8" opacity="0.35" fill="none"/>
<path d="M473.22 326.11V337.93M471.82 326.11H474.62M471.82 337.93H474.62" stroke="#2a2aff" stroke-width="0.8" opacity="0.35" fill="none"/>
<path d="M473.22 250.41V261.38M471.82 250.41H474.62M471.82 261.38H474.62" stroke="#17902a" stroke-width="0.8" opacity="0.35" fill="none"/>
<path d="M473.22 334.39V345.36M471.82 334.39H474.62M471.82 345.36H474.62" stroke="#17902a" stroke-width="0.8" opacity="0.35" fill="none"/>
<path d="M541.42 227.28V254.29M540.02 227.28H542.82M540.02 254.29H542.82" stroke="#2a2aff" stroke-width="0.8" opacity="0.35" fill="none"/>
<path d="M541.42 341.86V368.86M540.02 341.86H542.82M540.02 368.86H542.82" stroke="#2a2aff" stroke-width="0.8" opacity="0.35" fill="none"/>
<path d="M541.42 211.96V237.28M540.02 211.96H542.82M540.02 237.28H542.82" stroke="#17902a" stroke-width="0.8" opacity="0.35" fill="none"/>
<path d="M541.42 356.2V381.52M540.02 356.2H542.82M540.02 381.52H542.82" stroke="#17902a" stroke-width="0.8" opacity="0.35" fill="none"/>
<rect x="335.29" y="296.59" width="3.6" height="3.6" fill="#2a2aff"/>
<rect x="335.29" y="298.49" width="3.6" height="3.6" fill="#2a2aff"/>
<rect x="358.84" y="292.66" width="3.6" height="3.6" fill="#2a2aff"/>
<rect x="358.84" y="301.65" width="3.6" height="3.6" fill="#2a2aff"/>
<rect x="380.41" y="286.04" width="3.6" height="3.6" fill="#2a2aff"/>
<rect x="380.41" y="307.43" width="3.6" height="3.6" fill="#2a2aff"/>
<rect x="410.91" y="281.19" width="3.6" height="3.6" fill="#2a2aff"/>
<rect x="410.91" y="312.84" width="3.6" height="3.6" fill="#2a2aff"/>
<rect x="471.42" y="263.38" width="3.6" height="3.6" fill="#2a2aff"/>
<rect x="471.42" y="330.22" width="3.6" height="3.6" fill="#2a2aff"/>
<rect x="539.62" y="238.99" width="3.6" height="3.6" fill="#2a2aff"/>
<rect x="539.62" y="353.56" width="3.6" height="3.6" fill="#2a2aff"/>
<path d="M334.79 298.06L339.39 298.06L337.09 294.08Z" fill="#0f6e1e"/>
<path d="M334.79 302.36L339.39 302.36L337.09 298.38Z" fill="#0f6e1e"/>
<path d="M358.34 294.43L362.94 294.43L360.64 290.45Z" fill="#0f6e1e"/>
<path d="M358.34 305.57L362.94 305.57L360.64 301.59Z" fill="#0f6e1e"/>
<path d="M379.91 286.33L384.51 286.33L382.21 282.34Z" fill="#0f6e1e"/>
<path d="M379.91 312.62L384.51 312.62L382.21 308.64Z" fill="#0f6e1e"/>
<path d="M410.41 280.76L415.01 280.76L412.71 276.77Z" fill="#0f6e1e"/>
<path d="M410.41 319.5L415.01 319.5L412.71 315.51Z" fill="#0f6e1e"/>
<path d="M470.92 257.89L475.52 257.89L473.22 253.9Z" fill="#0f6e1e"/>
<path d="M470.92 341.86L475.52 341.86L473.22 337.88Z" fill="#0f6e1e"/>
<path d="M539.12 226.62L543.72 226.62L541.42 222.63Z" fill="#0f6e1e"/>
<path d="M539.12 370.85L543.72 370.85L541.42 366.87Z" fill="#0f6e1e"/>
<rect x="325" y="216.4" width="93.4" height="20.2" fill="#fff" fill-opacity="0.9" stroke="#c8c8c8" stroke-width="0.8"/>
<rect x="333.1" y="219.7" width="3.6" height="3.6" fill="#2a2aff"/>
<path d="M332.65 232.45L337.15 232.45L334.9 228.55Z" fill="#0f6e1e"/>
<text x="346.2" y="224.3" font-size="8.2" fill="#2a2aff" stroke="#2a2aff" stroke-width="0.1">CpLum/CNT</text>
<text x="346.2" y="233.2" font-size="8.2" fill="#17902a" stroke="#17902a" stroke-width="0.1">CpLum/COOH-CNT</text>
<text x="471.5" y="224.4" font-size="8.5" text-anchor="middle" fill="#222" stroke="#222" stroke-width="0.1">Anodic</text>
<text x="479.5" y="374.9" font-size="8.3" text-anchor="middle" fill="#222" stroke="#222" stroke-width="0.1">Cathodic</text>
<text x="279" y="226" font-size="18" font-weight="bold" fill="#000" stroke="#000" stroke-width="0.1">d<tspan dx="0.5" font-size="18.5">)</tspan></text>
<text transform="translate(296.8,297.6) rotate(-90)" font-size="8.6" text-anchor="middle" fill="#222" stroke="#222" stroke-width="0.1">Peak current (A cm<tspan dy="-3.6" font-size="6.4">-3</tspan><tspan dy="3.6">)</tspan></text>
<text x="402.3" y="406.6" font-size="8.9" fill="#222" stroke="#222" stroke-width="0.1">v<tspan dy="-3.2" font-size="5.8">0.5</tspan><tspan dy="3.2"> (mV</tspan><tspan dy="-3.2" font-size="5.8">0.5</tspan><tspan dy="3.2"> s</tspan><tspan dy="-3.2" font-size="5.8">-0.5</tspan><tspan dy="3.2">)</tspan></text>
<rect x="49" y="418.4" width="223.6" height="166.4" fill="none" stroke="#666" stroke-width="1.2"/>
<path d="M46 584.8H49M46 564H49M46 543.2H49M46 522.4H49M46 501.6H49M46 480.8H49M46 460H49M46 439.2H49M46 418.4H49M47.4 574.4H49M47.4 553.6H49M47.4 532.8H49M47.4 512H49M47.4 491.2H49M47.4 470.4H49M47.4 449.6H49M47.4 428.8H49M49 584.8V587.8M92.74 584.8V587.8M136.48 584.8V587.8M180.22 584.8V587.8M223.96 584.8V587.8M267.7 584.8V587.8M70.87 584.8V586.4M114.61 584.8V586.4M158.35 584.8V586.4M202.09 584.8V586.4M245.83 584.8V586.4" stroke="#666" stroke-width="1" fill="none"/>
<text x="44.3" y="587.64" font-size="7.9" text-anchor="end" fill="#333" stroke="#333" stroke-width="0.1">0</text>
<text x="44.3" y="566.84" font-size="7.9" text-anchor="end" fill="#333" stroke="#333" stroke-width="0.1">20</text>
<text x="44.3" y="546.04" font-size="7.9" text-anchor="end" fill="#333" stroke="#333" stroke-width="0.1">40</text>
<text x="44.3" y="525.24" font-size="7.9" text-anchor="end" fill="#333" stroke="#333" stroke-width="0.1">60</text>
<text x="44.3" y="504.44" font-size="7.9" text-anchor="end" fill="#333" stroke="#333" stroke-width="0.1">80</text>
<text x="44.3" y="483.64" font-size="7.9" text-anchor="end" fill="#333" stroke="#333" stroke-width="0.1">100</text>
<text x="44.3" y="462.84" font-size="7.9" text-anchor="end" fill="#333" stroke="#333" stroke-width="0.1">120</text>
<text x="44.3" y="442.04" font-size="7.9" text-anchor="end" fill="#333" stroke="#333" stroke-width="0.1">140</text>
<text x="44.3" y="421.24" font-size="7.9" text-anchor="end" fill="#333" stroke="#333" stroke-width="0.1">160</text>
<text x="49" y="596.34" font-size="7.9" text-anchor="middle" fill="#333" stroke="#333" stroke-width="0.1">0</text>
<text x="92.74" y="596.34" font-size="7.9" text-anchor="middle" fill="#333" stroke="#333" stroke-width="0.1">100</text>
<text x="136.48" y="596.34" font-size="7.9" text-anchor="middle" fill="#333" stroke="#333" stroke-width="0.1">200</text>
<text x="180.22" y="596.34" font-size="7.9" text-anchor="middle" fill="#333" stroke="#333" stroke-width="0.1">300</text>
<text x="223.96" y="596.34" font-size="7.9" text-anchor="middle" fill="#333" stroke="#333" stroke-width="0.1">400</text>
<text x="267.7" y="596.34" font-size="7.9" text-anchor="middle" fill="#333" stroke="#333" stroke-width="0.1">500</text>
<path d="M55.56 424.74V459.9M53.86 424.74H57.26M53.86 459.9H57.26" stroke="#148a26" stroke-width="1.3" opacity="0.42" fill="none"/>
<path d="M70.87 452.3V480.59M69.17 452.3H72.57M69.17 480.59H72.57" stroke="#148a26" stroke-width="1.3" opacity="0.42" fill="none"/>
<path d="M92.74 448.98V478.3M91.04 448.98H94.44M91.04 478.3H94.44" stroke="#148a26" stroke-width="1.3" opacity="0.42" fill="none"/>
<path d="M136.48 464.47V488.81M134.78 464.47H138.18M134.78 488.81H138.18" stroke="#148a26" stroke-width="1.3" opacity="0.42" fill="none"/>
<path d="M267.7 474.77V492.24M266 474.77H269.4M266 492.24H269.4" stroke="#148a26" stroke-width="1.3" opacity="0.42" fill="none"/>
<path d="M55.56 456.57V496.09M53.86 456.57H57.26M53.86 496.09H57.26" stroke="#2a2aff" stroke-width="1.3" opacity="0.42" fill="none"/>
<path d="M70.87 478.51V509.71M69.17 478.51H72.57M69.17 509.71H72.57" stroke="#2a2aff" stroke-width="1.3" opacity="0.42" fill="none"/>
<path d="M92.74 480.8V509.92M91.04 480.8H94.44M91.04 509.92H94.44" stroke="#2a2aff" stroke-width="1.3" opacity="0.42" fill="none"/>
<path d="M136.48 488.7V517.82M134.78 488.7H138.18M134.78 517.82H138.18" stroke="#2a2aff" stroke-width="1.3" opacity="0.42" fill="none"/>
<path d="M267.7 493.07V522.19M266 493.07H269.4M266 522.19H269.4" stroke="#2a2aff" stroke-width="1.3" opacity="0.42" fill="none"/>
<path d="M55.56 504.72V530.93M53.86 504.72H57.26M53.86 530.93H57.26" stroke="#e0662a" stroke-width="1.3" opacity="0.42" fill="none"/>
<path d="M70.87 509.92V534.46M69.17 509.92H72.57M69.17 534.46H72.57" stroke="#e0662a" stroke-width="1.3" opacity="0.42" fill="none"/>
<path d="M92.74 514.39V538.31M91.04 514.39H94.44M91.04 538.31H94.44" stroke="#e0662a" stroke-width="1.3" opacity="0.42" fill="none"/>
<path d="M136.48 515.43V539.77M134.78 515.43H138.18M134.78 539.77H138.18" stroke="#e0662a" stroke-width="1.3" opacity="0.42" fill="none"/>
<path d="M267.7 520.94V543.82M266 520.94H269.4M266 543.82H269.4" stroke="#e0662a" stroke-width="1.3" opacity="0.42" fill="none"/>
<path d="M55.56 528.95V534.15M53.86 528.95H57.26M53.86 534.15H57.26" stroke="#585858" stroke-width="1.3" opacity="0.42" fill="none"/>
<path d="M70.87 534.05V538.21M69.17 534.05H72.57M69.17 538.21H72.57" stroke="#585858" stroke-width="1.3" opacity="0.42" fill="none"/>
<path d="M92.74 534.78V539.98M91.04 534.78H94.44M91.04 539.98H94.44" stroke="#585858" stroke-width="1.3" opacity="0.42" fill="none"/>
<path d="M136.48 537.79V541.95M134.78 537.79H138.18M134.78 541.95H138.18" stroke="#585858" stroke-width="1.3" opacity="0.42" fill="none"/>
<path d="M267.7 540.81V544.97M266 540.81H269.4M266 544.97H269.4" stroke="#585858" stroke-width="1.3" opacity="0.42" fill="none"/>
<polyline points="55.56,531.55 70.87,536.13 92.74,537.38 136.48,539.87 267.7,542.89" fill="none" stroke="#585858" stroke-width="1.35"/>
<polyline points="55.56,517.82 70.87,522.19 92.74,526.35 136.48,527.6 267.7,532.38" fill="none" stroke="#e0662a" stroke-width="1.35"/>
<polyline points="55.56,476.33 70.87,494.11 92.74,495.36 136.48,503.26 267.7,507.63" fill="none" stroke="#2a2aff" stroke-width="1.35"/>
<polyline points="55.56,442.32 70.87,466.45 92.74,463.64 136.48,476.64 267.7,483.5" fill="none" stroke="#148a26" stroke-width="1.35"/>
<rect x="53.46" y="529.45" width="4.2" height="4.2" fill="#111"/>
<path d="M52.96 520.08L58.16 520.08L55.56 515.57Z" fill="#e0662a"/>
<circle cx="55.56" cy="476.33" r="2.4" fill="#2a2aff"/>
<path d="M52.96 440.07L58.16 440.07L55.56 444.57Z" fill="#148a26"/>
<rect x="68.77" y="534.03" width="4.2" height="4.2" fill="#111"/>
<path d="M68.27 524.44L73.47 524.44L70.87 519.94Z" fill="#e0662a"/>
<circle cx="70.87" cy="494.11" r="2.4" fill="#2a2aff"/>
<path d="M68.27 464.2L73.47 464.2L70.87 468.7Z" fill="#148a26"/>
<rect x="90.64" y="535.28" width="4.2" height="4.2" fill="#111"/>
<path d="M90.14 528.6L95.34 528.6L92.74 524.1Z" fill="#e0662a"/>
<circle cx="92.74" cy="495.36" r="2.4" fill="#2a2aff"/>
<path d="M90.14 461.39L95.34 461.39L92.74 465.89Z" fill="#148a26"/>
<rect x="134.38" y="537.77" width="4.2" height="4.2" fill="#111"/>
<path d="M133.88 529.85L139.08 529.85L136.48 525.35Z" fill="#e0662a"/>
<circle cx="136.48" cy="503.26" r="2.4" fill="#2a2aff"/>
<path d="M133.88 474.39L139.08 474.39L136.48 478.89Z" fill="#148a26"/>
<rect x="265.6" y="540.79" width="4.2" height="4.2" fill="#111"/>
<path d="M265.1 534.64L270.3 534.64L267.7 530.13Z" fill="#e0662a"/>
<circle cx="267.7" cy="507.63" r="2.4" fill="#2a2aff"/>
<path d="M265.1 481.25L270.3 481.25L267.7 485.76Z" fill="#148a26"/>
<path d="M162.5 424.1H183" stroke="#585858" stroke-width="1.1"/>
<rect x="170.7" y="422.1" width="4" height="4" fill="#111"/>
<text x="185.9" y="427.4" font-size="9.3" fill="#111" stroke="#111" stroke-width="0.1">CNT</text>
<path d="M162.5 435.2H183" stroke="#2a2aff" stroke-width="1.1"/>
<circle cx="172.7" cy="435.2" r="2.2" fill="#2a2aff"/>
<text x="185.9" y="438.5" font-size="9.3" fill="#2a2aff" stroke="#2a2aff" stroke-width="0.1">CpLum/CNT</text>
<path d="M162.5 446.2H183" stroke="#e0662a" stroke-width="1.1"/>
<path d="M170.3 447.98L175.1 447.98L172.7 443.82Z" fill="#e0662a"/>
<text x="185.9" y="449.5" font-size="9.3" fill="#e0662a" stroke="#e0662a" stroke-width="0.1">COOH-CNT</text>
<path d="M162.5 457.3H183" stroke="#148a26" stroke-width="1.1"/>
<path d="M170.3 455.62L175.1 455.62L172.7 459.78Z" fill="#148a26"/>
<text x="185.9" y="460.6" font-size="9.3" fill="#148a26" stroke="#148a26" stroke-width="0.1">CpLum/COOH-CNT</text>
<text x="3" y="431" font-size="18" font-weight="bold" fill="#000" stroke="#000" stroke-width="0.1">e<tspan dx="0.5" font-size="18.5">)</tspan></text>
<text transform="translate(26.7,500.5) rotate(-90)" font-size="9.2" text-anchor="middle" fill="#222" stroke="#222" stroke-width="0.1">Volumetric charge (C cm<tspan dy="-3.6" font-size="6.4">-3</tspan><tspan dy="3.6">)</tspan></text>
<text x="160.4" y="611" font-size="9" text-anchor="middle" fill="#222" stroke="#222" stroke-width="0.1">Scan rate (mV s<tspan dy="-3.6" font-size="6.4">-1</tspan><tspan dy="3.6">)</tspan></text>
<rect x="323.4" y="418.7" width="220.4" height="167.3" fill="none" stroke="#666" stroke-width="1.2"/>
<path d="M320.4 586H323.4M320.4 569.27H323.4M320.4 552.54H323.4M320.4 535.81H323.4M320.4 519.08H323.4M320.4 502.35H323.4M320.4 485.62H323.4M320.4 468.89H323.4M320.4 452.16H323.4M320.4 435.43H323.4M320.4 418.7H323.4M321.8 577.63H323.4M321.8 560.9H323.4M321.8 544.17H323.4M321.8 527.44H323.4M321.8 510.72H323.4M321.8 493.99H323.4M321.8 477.25H323.4M321.8 460.52H323.4M321.8 443.79H323.4M321.8 427.06H323.4M323.4 586V589M343.44 586V589M363.47 586V589M383.51 586V589M403.55 586V589M423.58 586V589M443.62 586V589M463.65 586V589M483.69 586V589M503.73 586V589M523.76 586V589M543.8 586V589M333.42 586V587.6M353.45 586V587.6M373.49 586V587.6M393.53 586V587.6M413.56 586V587.6M433.6 586V587.6M453.64 586V587.6M473.67 586V587.6M493.71 586V587.6M513.75 586V587.6M533.78 586V587.6" stroke="#666" stroke-width="1" fill="none"/>
<text x="318.4" y="588.48" font-size="6.9" text-anchor="end" fill="#333" stroke="#333" stroke-width="0.1">1.4</text>
<text x="318.4" y="571.75" font-size="6.9" text-anchor="end" fill="#333" stroke="#333" stroke-width="0.1">1.6</text>
<text x="318.4" y="555.02" font-size="6.9" text-anchor="end" fill="#333" stroke="#333" stroke-width="0.1">1.8</text>
<text x="318.4" y="538.29" font-size="6.9" text-anchor="end" fill="#333" stroke="#333" stroke-width="0.1">2.0</text>
<text x="318.4" y="521.56" font-size="6.9" text-anchor="end" fill="#333" stroke="#333" stroke-width="0.1">2.2</text>
<text x="318.4" y="504.83" font-size="6.9" text-anchor="end" fill="#333" stroke="#333" stroke-width="0.1">2.4</text>
<text x="318.4" y="488.1" font-size="6.9" text-anchor="end" fill="#333" stroke="#333" stroke-width="0.1">2.6</text>
<text x="318.4" y="471.37" font-size="6.9" text-anchor="end" fill="#333" stroke="#333" stroke-width="0.1">2.8</text>
<text x="318.4" y="454.64" font-size="6.9" text-anchor="end" fill="#333" stroke="#333" stroke-width="0.1">3.0</text>
<text x="318.4" y="437.91" font-size="6.9" text-anchor="end" fill="#333" stroke="#333" stroke-width="0.1">3.2</text>
<text x="318.4" y="421.18" font-size="6.9" text-anchor="end" fill="#333" stroke="#333" stroke-width="0.1">3.4</text>
<text x="323.4" y="596.98" font-size="6.9" text-anchor="middle" fill="#333" stroke="#333" stroke-width="0.1">-2.0</text>
<text x="343.44" y="596.98" font-size="6.9" text-anchor="middle" fill="#333" stroke="#333" stroke-width="0.1">-1.8</text>
<text x="363.47" y="596.98" font-size="6.9" text-anchor="middle" fill="#333" stroke="#333" stroke-width="0.1">-1.6</text>
<text x="383.51" y="596.98" font-size="6.9" text-anchor="middle" fill="#333" stroke="#333" stroke-width="0.1">-1.4</text>
<text x="403.55" y="596.98" font-size="6.9" text-anchor="middle" fill="#333" stroke="#333" stroke-width="0.1">-1.2</text>
<text x="423.58" y="596.98" font-size="6.9" text-anchor="middle" fill="#333" stroke="#333" stroke-width="0.1">-1.0</text>
<text x="443.62" y="596.98" font-size="6.9" text-anchor="middle" fill="#333" stroke="#333" stroke-width="0.1">-0.8</text>
<text x="463.65" y="596.98" font-size="6.9" text-anchor="middle" fill="#333" stroke="#333" stroke-width="0.1">-0.6</text>
<text x="483.69" y="596.98" font-size="6.9" text-anchor="middle" fill="#333" stroke="#333" stroke-width="0.1">-0.4</text>
<text x="503.73" y="596.98" font-size="6.9" text-anchor="middle" fill="#333" stroke="#333" stroke-width="0.1">-0.2</text>
<text x="523.76" y="596.98" font-size="6.9" text-anchor="middle" fill="#333" stroke="#333" stroke-width="0.1">0.0</text>
<text x="543.8" y="596.98" font-size="6.9" text-anchor="middle" fill="#333" stroke="#333" stroke-width="0.1">0.2</text>
<path d="M341.03 561.32L523.76 430.24" stroke="#17902a" stroke-width="1.25" stroke-dasharray="3.4 3" fill="none"/>
<path d="M341.03 566.93L523.76 438.78" stroke="#2a2aff" stroke-width="1.25" stroke-dasharray="3.4 3" fill="none"/>
<rect x="339.24" y="566.38" width="3.6" height="3.6" fill="#2a2aff"/>
<path d="M338.84 567.24L343.24 567.24L341.04 563.43Z" fill="#0f6e1e"/>
<rect x="391.62" y="530.83" width="3.6" height="3.6" fill="#2a2aff"/>
<path d="M391.22 526.84L395.62 526.84L393.42 523.03Z" fill="#0f6e1e"/>
<rect x="421.78" y="500.22" width="3.6" height="3.6" fill="#2a2aff"/>
<path d="M421.38 496.73L425.78 496.73L423.58 492.92Z" fill="#0f6e1e"/>
<rect x="451.94" y="485.66" width="3.6" height="3.6" fill="#2a2aff"/>
<path d="M451.54 481.59L455.94 481.59L453.74 477.78Z" fill="#0f6e1e"/>
<rect x="491.81" y="458.31" width="3.6" height="3.6" fill="#2a2aff"/>
<path d="M491.41 454.48L495.81 454.48L493.61 450.67Z" fill="#0f6e1e"/>
<rect x="521.96" y="438.9" width="3.6" height="3.6" fill="#2a2aff"/>
<path d="M521.56 434.41L525.96 434.41L523.76 430.6Z" fill="#0f6e1e"/>
<rect x="324.8" y="419.4" width="93.9" height="20.7" fill="#fff" fill-opacity="0.9" stroke="#c8c8c8" stroke-width="0.8"/>
<rect x="333.1" y="422.8" width="3.8" height="3.8" fill="#2a2aff"/>
<path d="M332.6 435.69L337.2 435.69L334.9 431.71Z" fill="#0f6e1e"/>
<text x="346" y="427.5" font-size="8.1" fill="#2a2aff" stroke="#2a2aff" stroke-width="0.1">CpLum/CNT</text>
<text x="346" y="436.5" font-size="8.1" fill="#17902a" stroke="#17902a" stroke-width="0.1">CpLum/COOH-CNT</text>
<text x="436.1" y="437.9" font-size="14" fill="#111" stroke="#111" stroke-width="0.1">i <tspan font-size="17" dy="1.6">∝</tspan><tspan dy="-1.6"> av</tspan><tspan dy="-5.5" font-size="9.5">b</tspan></text>
<text x="400.8" y="467.5" font-size="8.2" fill="#17902a" stroke="#17902a" stroke-width="0.1">b-value = 0.86</text>
<text x="411.3" y="531.9" font-size="8.2" fill="#2a2aff" stroke="#2a2aff" stroke-width="0.1">b-value = 0.84</text>
<text x="284" y="431" font-size="18" font-weight="bold" fill="#000" stroke="#000" stroke-width="0.1">f<tspan dx="0.5" font-size="18.5">)</tspan></text>
<text transform="translate(305.6,501.3) rotate(-90)" font-size="8.7" text-anchor="middle" fill="#222" stroke="#222" stroke-width="0.1">log [i (A cm<tspan dy="-3" font-size="5.5">-3</tspan><tspan dy="3">)]</tspan></text>
<text x="434" y="610.5" font-size="8.5" text-anchor="middle" fill="#222" stroke="#222" stroke-width="0.1">log [v (V s<tspan dy="-3" font-size="5.5">-1</tspan><tspan dy="3">)]</tspan></text>
</svg></body></html>
